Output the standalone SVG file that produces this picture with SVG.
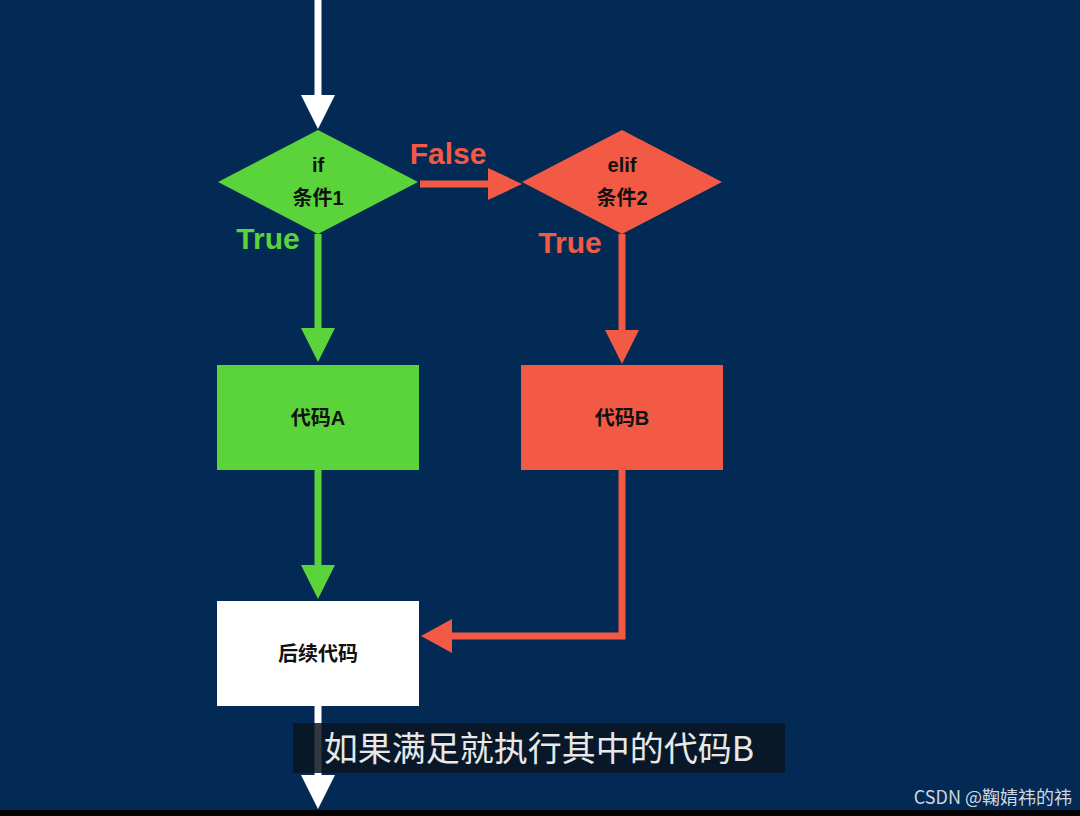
<svg xmlns="http://www.w3.org/2000/svg" width="1080" height="816" viewBox="0 0 1080 816">
<style>
.lbl{font-family:"Liberation Sans","Noto Sans CJK SC",sans-serif;font-weight:bold;font-size:20px;text-anchor:middle;fill:#111}
.big{font-family:"Liberation Sans",sans-serif;font-weight:bold;font-size:30px}
</style>
<rect width="1080" height="816" fill="#032a55"/>
<rect y="810" width="1080" height="6" fill="#000"/>
<g id="connectors">
<line x1="318" y1="0" x2="318" y2="96" stroke="#fff" stroke-width="7"/>
<polygon points="301,95 335,95 318,129" fill="#fff"/>
<line x1="420" y1="184" x2="490" y2="184" stroke="#f25a45" stroke-width="7"/>
<polygon points="488,168 522,184 488,200" fill="#f25a45"/>
<line x1="318" y1="234" x2="318" y2="330" stroke="#5ad43a" stroke-width="7"/>
<polygon points="301,328 335,328 318,362" fill="#5ad43a"/>
<line x1="622" y1="234" x2="622" y2="332" stroke="#f25a45" stroke-width="7"/>
<polygon points="605,330 639,330 622,364" fill="#f25a45"/>
<line x1="318" y1="470" x2="318" y2="567" stroke="#5ad43a" stroke-width="7"/>
<polygon points="301,565 335,565 318,599" fill="#5ad43a"/>
<polyline points="622,470 622,636 450,636" fill="none" stroke="#f25a45" stroke-width="7"/>
<polygon points="452,619 452,653 421,636" fill="#f25a45"/>
<line x1="318" y1="706" x2="318" y2="777" stroke="#fff" stroke-width="7"/>
<polygon points="301,775 335,775 318,809" fill="#fff"/>
</g>
<text x="448" y="164" class="big" fill="#f25a45" text-anchor="middle">False</text>
<text x="268" y="249" class="big" fill="#5ad43a" text-anchor="middle">True</text>
<text x="570" y="253" class="big" fill="#f25a45" text-anchor="middle">True</text>
<g id="if"><polygon points="218,182 318,130 418,182 318,234" fill="#5ad43a"/>
<text x="318" y="172" class="lbl">if</text><text x="318" y="205" class="lbl">条件1</text></g>
<g id="elif"><polygon points="522,182 622,130 722,182 622,234" fill="#f25a45"/>
<text x="622" y="172" class="lbl">elif</text><text x="622" y="205" class="lbl">条件2</text></g>
<g id="codeA"><rect x="217" y="365" width="202" height="105" fill="#5ad43a"/><text x="318" y="425" class="lbl">代码A</text></g>
<g id="codeB"><rect x="521" y="365" width="202" height="105" fill="#f25a45"/><text x="622" y="425" class="lbl">代码B</text></g>
<g id="after"><rect x="217" y="601" width="202" height="105" fill="#fff"/><text x="318" y="661" class="lbl">后续代码</text></g>
<rect x="293" y="723" width="492" height="50" fill="#0b1522" opacity="0.85"/>
<text x="539" y="761" font-family="Noto Sans CJK SC,sans-serif" font-size="34" fill="#e8e8e8" text-anchor="middle">如果满足就执行其中的代码B</text>
<text x="1072" y="804" font-family="Noto Sans CJK SC,sans-serif" font-size="18" fill="#cfd6de" text-anchor="end">CSDN @鞠婧祎的祎</text>
</svg>
